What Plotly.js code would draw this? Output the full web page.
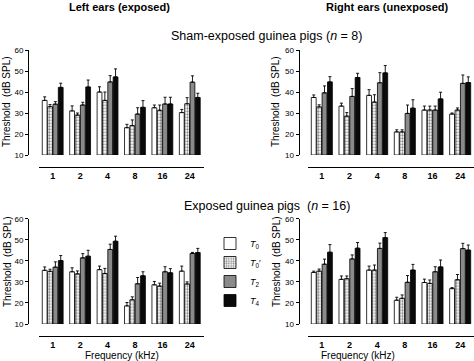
<!DOCTYPE html>
<html>
<head>
<meta charset="utf-8">
<script src="https://cdn.plot.ly/plotly-3.0.1.min.js"></script>
<style>html,body{margin:0;padding:0;background:#fff;}#chart{width:474px;height:361px;}</style>
</head>
<body>
<div id="chart"></div>
<script>
// Frequency categories (kHz)
const categories = ['1', '2', '4', '8', '16', '24'];
const seriesNames = ['<i>T</i><sub>0</sub>', "<i>T</i><sub>0</sub>\u2032", '<i>T</i><sub>2</sub>', '<i>T</i><sub>4</sub>'];

// Sham-exposed, left ears
const shamLeftT0 = [36.0, 31.0, 40.0, 23.0, 32.5, 30.2];
const shamLeftT0Err = [1.7, 2.4, 2.5, 1.6, 1.3, 1.5];
const shamLeftT0p = [33.0, 29.0, 36.0, 24.0, 31.3, 34.4];
const shamLeftT0pErr = [1.0, 1.0, 4.0, 2.7, 2.5, 2.9];
const shamLeftT2 = [34.2, 33.8, 44.8, 29.5, 34.3, 44.7];
const shamLeftT2Err = [1.2, 1.3, 3.0, 3.0, 3.2, 3.0];
const shamLeftT4 = [42.2, 42.4, 47.2, 32.7, 34.3, 37.4];
const shamLeftT4Err = [2.0, 3.3, 3.8, 3.2, 3.2, 2.0];

// Sham-exposed, right ears
const shamRightT0 = [37.4, 33.3, 38.4, 21.0, 31.4, 29.5];
const shamRightT0Err = [1.2, 1.4, 2.7, 1.0, 1.9, 0.5];
const shamRightT0p = [32.9, 28.5, 35.2, 21.0, 31.4, 31.4];
const shamRightT0pErr = [1.0, 1.7, 3.5, 1.0, 1.9, 1.0];
const shamRightT2 = [39.6, 37.9, 44.4, 29.8, 31.4, 44.1];
const shamRightT2Err = [3.3, 3.7, 4.8, 4.0, 1.9, 4.0];
const shamRightT4 = [44.8, 46.9, 49.1, 32.3, 36.7, 44.5];
const shamRightT4Err = [2.5, 2.0, 3.5, 4.0, 3.2, 2.7];

// Exposed, left ears
const expLeftT0 = [35.5, 34.8, 35.8, 18.6, 28.6, 35.1];
const expLeftT0Err = [1.6, 1.9, 1.7, 1.6, 1.6, 2.4];
const expLeftT0p = [35.0, 33.8, 34.0, 21.5, 28.0, 29.0];
const expLeftT0pErr = [1.0, 1.4, 2.4, 1.4, 1.4, 1.0];
const expLeftT2 = [37.0, 41.4, 45.4, 29.1, 34.8, 43.5];
const expLeftT2Err = [2.5, 2.0, 2.5, 3.0, 2.4, 0.5];
const expLeftT4 = [40.1, 42.2, 49.3, 32.9, 34.3, 43.9];
const expLeftT4Err = [2.4, 2.8, 2.4, 1.9, 2.0, 2.0];

// Exposed, right ears
const expRightT0 = [34.5, 31.2, 35.6, 21.3, 29.7, 26.8];
const expRightT0Err = [0.6, 1.6, 1.9, 1.4, 1.6, 0.5];
const expRightT0p = [35.1, 31.5, 35.6, 22.2, 29.3, 31.0];
const expRightT0pErr = [1.0, 1.3, 2.4, 1.6, 1.6, 2.5];
const expRightT2 = [38.4, 40.9, 45.9, 29.8, 34.8, 45.8];
const expRightT2Err = [2.4, 1.9, 2.5, 3.2, 2.4, 2.5];
const expRightT4 = [44.1, 46.0, 51.0, 35.6, 37.1, 45.1];
const expRightT4Err = [3.6, 2.7, 2.4, 2.7, 3.3, 2.4];

const BASE = 10;
const FONT = 'Liberation Sans, Arial, Helvetica, sans-serif';

const panels = [
  {ax: '', series: [[shamLeftT0, shamLeftT0Err], [shamLeftT0p, shamLeftT0pErr], [shamLeftT2, shamLeftT2Err], [shamLeftT4, shamLeftT4Err]]},
  {ax: '2', series: [[shamRightT0, shamRightT0Err], [shamRightT0p, shamRightT0pErr], [shamRightT2, shamRightT2Err], [shamRightT4, shamRightT4Err]]},
  {ax: '3', series: [[expLeftT0, expLeftT0Err], [expLeftT0p, expLeftT0pErr], [expLeftT2, expLeftT2Err], [expLeftT4, expLeftT4Err]]},
  {ax: '4', series: [[expRightT0, expRightT0Err], [expRightT0p, expRightT0pErr], [expRightT2, expRightT2Err], [expRightT4, expRightT4Err]]}
];

const styles = [
  {color: '#ffffff'},
  {color: '#ffffff', pattern: {shape: '.', fgcolor: '#8c8c8c', bgcolor: '#ffffff', size: 3, solidity: 0.45}},
  {color: '#8a8a8a'},
  {color: '#0a0a0a'}
];

const traces = [];
panels.forEach((p, pi) => {
  p.series.forEach((s, si) => {
    const marker = {color: styles[si].color, line: {color: '#000', width: 0.8}};
    if (styles[si].pattern) marker.pattern = styles[si].pattern;
    traces.push({
      type: 'bar',
      x: categories,
      y: s[0].map(v => v - BASE),
      base: BASE,
      name: seriesNames[si],
      legendgroup: 'g' + si,
      showlegend: pi === 0,
      marker: marker,
      error_y: {type: 'data', symmetric: false, array: s[1], arrayminus: s[1].map(() => 0), color: '#000', thickness: 0.9, width: 1.5},
      xaxis: 'x' + p.ax,
      yaxis: 'y' + p.ax,
      hoverinfo: 'skip'
    });
  });
});

const W = 474, H = 361;
const px = v => v / W, py = v => 1 - v / H;

function xAx(domain, pos) {
  return {domain: domain, anchor: 'free', position: pos, type: 'category', categoryorder: 'array', categoryarray: categories,
    showline: true, linecolor: '#000', linewidth: 1, ticks: '', showgrid: false, zeroline: false,
    tickfont: {family: FONT, size: 9, color: '#000', weight: 'bold'}, tickangle: 0};
}
function yAx(domain, pos) {
  return {domain: domain, anchor: 'free', position: pos, range: [10, 60], tickvals: [10, 20, 30, 40, 50, 60],
    showline: true, linecolor: '#000', linewidth: 1, ticks: 'outside', ticklen: 3, tickcolor: '#000', tickwidth: 1,
    showgrid: false, zeroline: false, tickfont: {family: FONT, size: 8, color: '#000'}};
}

const leftX = [px(39), px(203.5)];
const rightX = [px(308), 1];
const topY = [py(155), py(50)];
const botY = [py(324), py(218.7)];

const layout = {
  width: W, height: H,
  margin: {l: 0, r: 0, t: 0, b: 0},
  paper_bgcolor: '#fff', plot_bgcolor: 'rgba(0,0,0,0)',
  font: {family: FONT, color: '#000'},
  barmode: 'group', bargap: 0.22, bargroupgap: 0.1,
  xaxis: xAx(leftX, py(167)),
  yaxis: yAx(topY, px(28)),
  xaxis2: xAx(rightX, py(167)),
  yaxis2: yAx(topY, px(298.5)),
  xaxis3: xAx(leftX, py(335.7)),
  yaxis3: yAx(botY, px(28)),
  xaxis4: xAx(rightX, py(335.7)),
  yaxis4: yAx(botY, px(298.5)),
  showlegend: true,
  legend: {x: px(210), xanchor: 'left', y: py(272), yanchor: 'middle', font: {family: FONT, size: 9, color: '#000'},
    bgcolor: 'rgba(0,0,0,0)', tracegroupgap: 0, itemwidth: 30},
  annotations: [
    {text: '<b>Left ears (exposed)</b>', x: px(119), y: py(7)},
    {text: '<b>Right ears (unexposed)</b>', x: px(387), y: py(7)},
    {text: 'Sham-exposed guinea pigs (<i>n</i> = 8)', x: px(266), y: py(36), size: 12.5},
    {text: 'Exposed guinea pigs\u00a0\u00a0(<i>n</i> = 16)', x: px(267), y: py(206), size: 12.5},
    {text: 'Threshold  (dB SPL)', x: px(7), y: py(102), angle: -90, size: 10},
    {text: 'Threshold  (dB SPL)', x: px(276), y: py(102), angle: -90, size: 10},
    {text: 'Threshold  (dB SPL)', x: px(7), y: py(262), angle: -90, size: 10},
    {text: 'Threshold  (dB SPL)', x: px(276), y: py(262), angle: -90, size: 10},
    {text: 'Frequency (kHz)', x: px(122), y: py(355), size: 10},
    {text: 'Frequency (kHz)', x: px(358), y: py(355), size: 10}
  ].map(a => ({text: a.text, x: a.x, y: a.y, xref: 'paper', yref: 'paper', xanchor: 'center', yanchor: 'middle',
    showarrow: false, textangle: a.angle || 0, font: {family: FONT, size: a.size || 11, color: '#000'}}))
};

Plotly.newPlot('chart', traces, layout, {staticPlot: true, displayModeBar: false});
</script>
</body>
</html>
